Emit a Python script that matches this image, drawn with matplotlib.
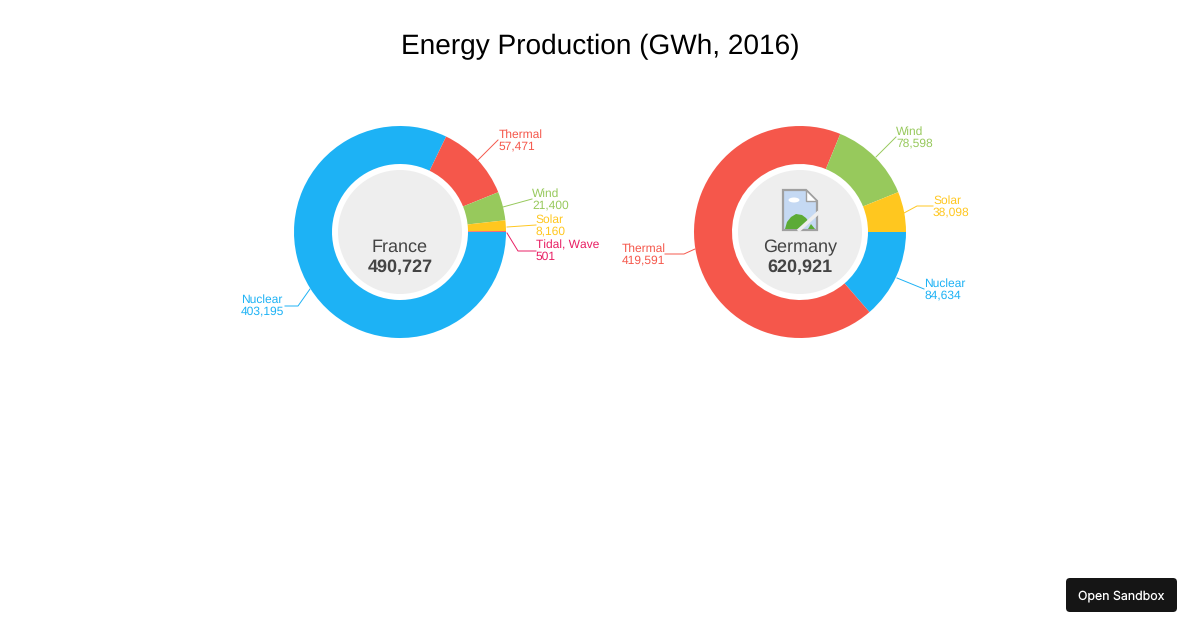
import matplotlib
matplotlib.use("Agg")
import matplotlib.pyplot as plt
from matplotlib.patches import Circle, FancyBboxPatch, Polygon, Ellipse

plt.rcParams["font.family"] = ["Liberation Sans", "DejaVu Sans"]
plt.rcParams["text.hinting"] = "no_hinting"
plt.rcParams["text.hinting_factor"] = 1

france_labels = ["Nuclear", "Thermal", "Wind", "Solar", "Tidal, Wave"]
france_values = [403195, 57471, 21400, 8160, 501]
germany_labels = ["Nuclear", "Thermal", "Wind", "Solar"]
germany_values = [84634, 419591, 78598, 38098]

COLORS = {"Nuclear": "#1DB2F5", "Thermal": "#F5574B", "Wind": "#97C95C",
          "Solar": "#FFC71F", "Tidal, Wave": "#E91E63"}

# leader lines and label anchors, in screen pixels (y down)
france_layout = {
    "Thermal": ([(478, 160), (498, 140)], 499, 134),
    "Wind": ([(503, 207), (532, 199)], 532, 193),
    "Solar": ([(507, 227), (536, 225)], 535.5, 219),
    "Tidal, Wave": ([(507, 233), (518, 251), (536, 251)], 536, 244),
    "Nuclear": ([(310, 289), (298, 306), (285, 306)], 241, 299),
}
germany_layout = {
    "Wind": ([(876, 157), (896, 137)], 896, 131),
    "Solar": ([(904, 213), (917, 206), (933, 206)], 933, 200),
    "Nuclear": ([(897, 278), (924, 289)], 924, 283),
    "Thermal": ([(695, 249), (684, 254), (665, 254)], 622, 248),
}

W, H = 1200, 630


def flip(y):
    return H - y


def draw_donut(ax, cx, cy, name, labels, values, layout):
    ax.pie(values, colors=[COLORS[l] for l in labels], center=(cx, flip(cy)),
           radius=106, startangle=0, counterclock=False,
           wedgeprops={"width": 38, "linewidth": 0})
    ax.add_patch(Circle((cx, flip(cy)), 62, facecolor="#EEEEEE", edgecolor="none", zorder=3))
    ax.text(cx, flip(245.5), name, fontsize=13, color="#444444", ha="center",
            va="center_baseline", zorder=4)
    ax.text(cx, flip(265.5), f"{sum(values):,}", fontsize=13, fontweight="bold",
            color="#444444", ha="center", va="center_baseline", zorder=4)
    for label, value in zip(labels, values):
        pts, tx, ty = layout[label]
        ax.plot([p[0] for p in pts], [flip(p[1]) for p in pts], color=COLORS[label],
                linewidth=0.7, zorder=2)
        ax.text(tx, flip(ty), label, fontsize=8.65, color=COLORS[label], ha="left",
                va="center_baseline")
        ax.text(tx, flip(ty + 11.5), f"{value:,}", fontsize=8.65, color=COLORS[label],
                ha="left", va="center_baseline")


def draw_broken_image(ax):
    # browser's missing-image icon above the Germany total
    doc = [(783, 190), (806, 190), (817, 201), (817, 230), (783, 230)]
    ax.add_patch(Polygon([(x, flip(y)) for x, y in doc], closed=True, facecolor="#C5D9F3",
                         edgecolor="#A0A0A0", linewidth=1.6, zorder=5))
    ax.add_patch(Polygon([(x, flip(y)) for x, y in [(806, 190), (806, 201), (817, 201)]],
                         closed=True, facecolor="#FFFFFF", edgecolor="#A0A0A0",
                         linewidth=1.0, zorder=6))
    ax.add_patch(Ellipse((794, flip(200)), 11, 5, facecolor="#FFFFFF", edgecolor="none", zorder=6))
    ax.add_patch(Polygon([(x, flip(y)) for x, y in
                          [(785, 229), (787, 222), (791, 217), (796, 214), (802, 215),
                           (806, 218), (809, 222), (801, 229)]],
                         closed=True, facecolor="#5CAB36", edgecolor="none", zorder=6))
    ax.add_patch(Polygon([(x, flip(y)) for x, y in [(808, 229), (811, 224), (815, 229)]],
                         closed=True, facecolor="#5CAB36", edgecolor="none", zorder=6))
    ax.plot([798, 819], [flip(231), flip(212)], color="#EEEEEE", linewidth=2.6, zorder=7,
            solid_capstyle="butt")


fig = plt.figure(figsize=(12, 6.3), dpi=100)
ax = fig.add_axes([0, 0, 1, 1])

draw_donut(ax, 400, 232, "France", france_labels, france_values, france_layout)
draw_donut(ax, 800, 232, "Germany", germany_labels, germany_values, germany_layout)
draw_broken_image(ax)

ax.text(600, flip(44), "Energy Production (GWh, 2016)", fontsize=19.9, color="#000000",
        ha="center", va="center_baseline")

ax.add_patch(FancyBboxPatch((1070, flip(608)), 103, 26, boxstyle="round,pad=4,rounding_size=4",
                            facecolor="#151515", edgecolor="none", zorder=5))
ax.text(1121.5, flip(595), "Open Sandbox", fontsize=8.9, color="#FFFFFF", ha="center",
        va="center_baseline", family=["Inter", "DejaVu Sans"], zorder=6)

ax.set_xlim(0, W)
ax.set_ylim(0, H)
ax.set_aspect("auto")
ax.axis("off")

fig.savefig("out.png", dpi=100)
